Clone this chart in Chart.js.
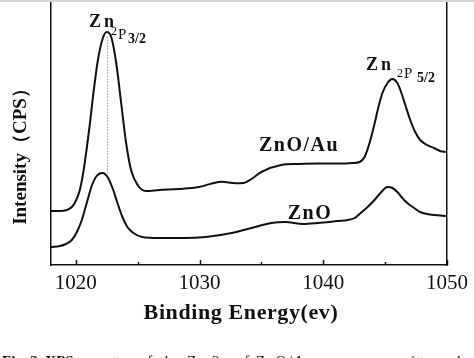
<!DOCTYPE html>
<html><head><meta charset="utf-8">
<script src="https://cdn.jsdelivr.net/npm/chart.js@4/dist/chart.umd.min.js"></script>
<style>html,body{margin:0;padding:0;background:#fff;overflow:hidden}#wrap{width:474px;height:358px;position:relative}</style>
</head><body><div id="wrap"><canvas id="c" width="474" height="358"></canvas></div>
<script>
// Binding energy (eV) and intensity (arbitrary units, offset stacked)
const energyZnOAu = [1018.00,1018.72,1019.28,1019.68,1020.00,1020.33,1020.60,1020.86,1021.13,1021.39,1021.79,1022.19,1022.51,1022.87,1023.27,1023.67,1024.07,1024.47,1025.00,1025.67,1026.74,1028.34,1029.95,1031.00,1031.79,1032.92,1033.56,1034.20,1035.00,1036.60,1037.94,1039.57,1041.18,1042.38,1042.94,1043.34,1043.74,1044.14,1044.46,1044.78,1045.19,1045.59,1045.99,1046.23,1046.63,1047.03,1047.43,1047.83,1048.39,1048.95,1049.43,1050.00];
const intensityZnOAu = [54,54,55,58,64,75,92,114,140,168,205,227,233,228,202,162,122,95,80,74,75,76,78,81.5,83.3,81.7,82,86,93,100,101,101.5,101.5,102,103,108,122,141,158,172,182,186,182,175,160,145,133,125,120,117,114,113];
const energyZnO = [1018.00,1018.72,1019.20,1019.68,1020.09,1020.49,1020.89,1021.29,1021.69,1022.15,1022.57,1022.97,1023.37,1023.77,1024.17,1024.66,1025.38,1026.74,1028.75,1030.51,1032.60,1034.20,1035.80,1036.93,1038.37,1039.57,1041.18,1041.98,1042.54,1043.02,1043.58,1044.14,1044.62,1045.19,1045.59,1045.99,1046.39,1046.79,1047.35,1047.83,1048.39,1048.95,1050.00];
const intensityZnO = [18,19,21,25,33,45,62,79,89,92,88,77,62,48,38,32,28,27,27,28,32,37,42,43,41,42,44,45,47,52,58,65,72,78,77,73,67,62,57,53,51,50,49];
const peakMarkerEnergy = [1022.57, 1022.57];
const peakMarkerIntensity = [92, 230];
const majorTicks = [1020, 1030, 1040, 1050];
const minorTicks = [1025, 1035, 1045];
const xTitle = 'Binding Energy(ev)';
const yTitle = 'Intensity（CPS）';
const seriesLabels = ['ZnO/Au', 'ZnO'];

const toPts = (xs, ys) => xs.map((x, i) => ({x, y: ys[i]}));
const SERIF = "'Liberation Serif','Times New Roman',serif";

const decor = {
  id: 'decor',
  afterDraw(chart) {
    const {ctx, scales: {x}, chartArea: ca} = chart;
    ctx.save();
    ctx.fillStyle = '#d6d6d6';
    ctx.fillRect(0, 0, 474, 2);
    ctx.strokeStyle = '#111';
    ctx.lineWidth = 1.5;
    majorTicks.forEach(v => { const px = Math.round(x.getPixelForValue(v)) + 0.5; ctx.beginPath(); ctx.moveTo(px, ca.bottom); ctx.lineTo(px, ca.bottom - 5); ctx.stroke(); });
    minorTicks.forEach(v => { const px = Math.round(x.getPixelForValue(v)) + 0.5; ctx.beginPath(); ctx.moveTo(px, ca.bottom); ctx.lineTo(px, ca.bottom - 3); ctx.stroke(); });
    ctx.fillStyle = '#111';
    ctx.font = 'bold 22px ' + SERIF;
    ctx.letterSpacing = '0.6px';
    ctx.textAlign = 'center'; ctx.textBaseline = 'middle';
    ctx.fillText(xTitle, 241, 313);
    ctx.save();
    ctx.translate(21, 152); ctx.rotate(-Math.PI / 2);
    ctx.letterSpacing = '0px';
    ctx.font = 'bold 19px ' + SERIF;
    ctx.fillText(yTitle, 0, 0);
    ctx.restore();
    ctx.font = 'bold 20px ' + SERIF;
    ctx.letterSpacing = '1.5px';
    ctx.textAlign = 'center'; ctx.textBaseline = 'alphabetic';
    ctx.fillText(seriesLabels[0], 299, 151);
    ctx.fillText(seriesLabels[1], 310, 219);
    ctx.textAlign = 'left';
    ctx.letterSpacing = '3px';
    ctx.font = 'bold 18px ' + SERIF;
    ctx.fillText('Zn', 89, 27);
    ctx.letterSpacing = '0px';
    ctx.font = '12px ' + SERIF; ctx.fillText('2', 111, 35);
    ctx.font = '15px ' + SERIF; ctx.fillText('P', 118, 39);
    ctx.font = 'bold 14px ' + SERIF; ctx.fillText('3/2', 128, 43);
    ctx.letterSpacing = '3px';
    ctx.font = 'bold 18px ' + SERIF;
    ctx.fillText('Zn', 366, 70);
    ctx.letterSpacing = '0px';
    ctx.font = '12px ' + SERIF; ctx.fillText('2', 397, 77);
    ctx.font = '15px ' + SERIF; ctx.fillText('P', 404, 78);
    ctx.font = 'bold 14px ' + SERIF; ctx.fillText('5/2', 417, 82);
    ctx.font = 'bold 15px ' + SERIF;
    ctx.fillText('Fig. 3  XPS', 2, 366);
    ctx.font = '15px ' + SERIF;
    ctx.letterSpacing = '1.5px';
    ctx.fillText('spectra of the Zn 2p of ZnO/Au nanocomposite and', 80, 366);
    ctx.restore();
  }
};

new Chart(document.getElementById('c'), {
  type: 'line',
  data: {
    datasets: [
      {label: seriesLabels[0], data: toPts(energyZnOAu, intensityZnOAu), borderColor: '#111', borderWidth: 2, pointRadius: 0, cubicInterpolationMode: 'monotone', fill: false},
      {label: seriesLabels[1], data: toPts(energyZnO, intensityZnO), borderColor: '#111', borderWidth: 2, pointRadius: 0, cubicInterpolationMode: 'monotone', fill: false},
      {label: 'peak', data: toPts(peakMarkerEnergy, peakMarkerIntensity), borderColor: '#9a9a9a', borderWidth: 1, borderDash: [1.5, 1.5], pointRadius: 0, fill: false}
    ]
  },
  options: {
    responsive: false,
    animation: false,
    devicePixelRatio: 1,
    layout: {padding: 0},
    plugins: {legend: {display: false}, tooltip: {enabled: false}},
    scales: {
      x: {
        type: 'linear', min: 1018, max: 1050,
        afterBuildTicks: s => { s.ticks = majorTicks.map(v => ({value: v})); },
        afterFit: s => { s.height = 93; },
        grid: {display: false, drawTicks: false},
        border: {display: true, color: '#111', width: 1.5},
        ticks: {color: '#111', padding: 6, maxRotation: 0, autoSkip: false, font: {family: SERIF, size: 21}, callback: v => String(v)}
      },
      y: {
        min: 0, max: 265,
        afterFit: s => { s.width = 51; },
        grid: {display: false, drawTicks: false},
        border: {display: true, color: '#111', width: 1.5},
        ticks: {display: false}
      },
      y2: {
        position: 'right', min: 0, max: 265,
        afterFit: s => { s.width = 24; },
        grid: {display: false, drawTicks: false},
        border: {display: true, color: '#111', width: 1.5},
        ticks: {display: false}
      }
    }
  },
  plugins: [decor]
});
</script>
</body></html>
